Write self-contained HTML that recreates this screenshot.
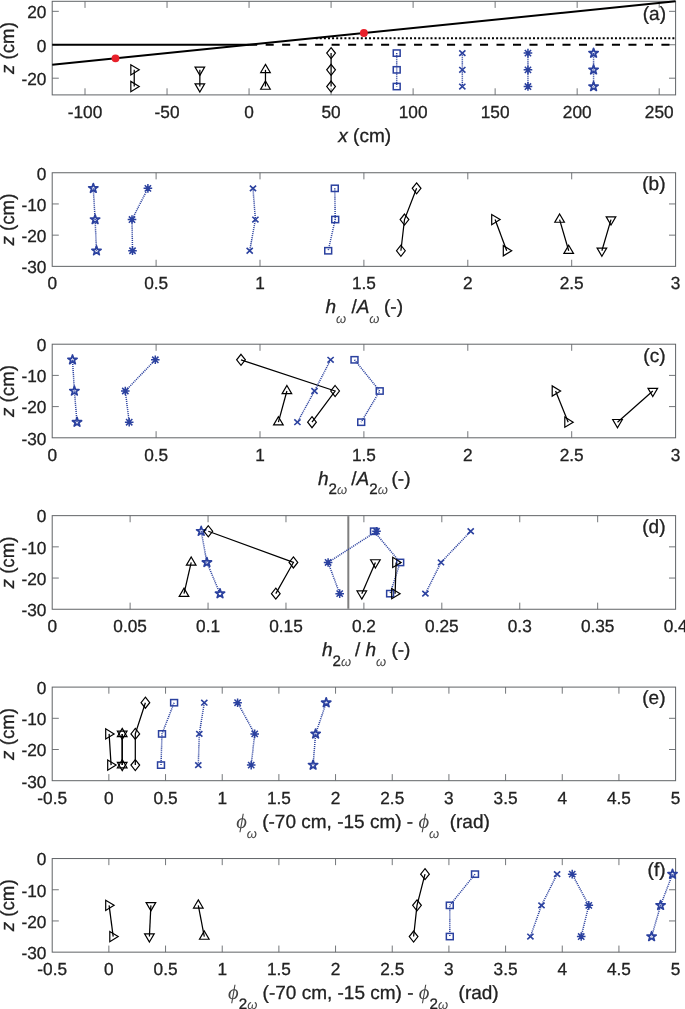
<!DOCTYPE html>
<html lang="en">
<head>
<meta charset="utf-8">
<title>Figure</title>
<style>
html,body{margin:0;padding:0;background:#fff;}
body{width:685px;height:1009px;overflow:hidden;}
svg{display:block;}
text{white-space:pre;stroke:#222;stroke-width:0.3px;}
.om{stroke:none;fill:#454545;}
</style>
</head>
<body>
<svg width="685" height="1009" viewBox="0 0 685 1009" font-family="'Liberation Sans', sans-serif" fill="#222" stroke="none" text-rendering="geometricPrecision">
<rect width="685" height="1009" fill="#fff"/>
<defs><filter id="soft" filterUnits="userSpaceOnUse" x="0" y="0" width="685" height="1009" color-interpolation-filters="sRGB"><feGaussianBlur stdDeviation="0.35"/></filter></defs>
<g filter="url(#soft)">
<path d="M85.01 94.9v-6.6 M85.01 1.3v6.6 M167.04 94.9v-6.6 M167.04 1.3v6.6 M249.06 94.9v-6.6 M249.06 1.3v6.6 M331.09 94.9v-6.6 M331.09 1.3v6.6 M413.12 94.9v-6.6 M413.12 1.3v6.6 M495.14 94.9v-6.6 M495.14 1.3v6.6 M577.17 94.9v-6.6 M577.17 1.3v6.6 M659.19 94.9v-6.6 M659.19 1.3v6.6 M52.2 11.33h6.6 M675.6 11.33h-6.6 M52.2 44.76h6.6 M675.6 44.76h-6.6 M52.2 78.19h6.6 M675.6 78.19h-6.6" fill="none" stroke="#74777a" stroke-width="1"/>
<rect x="52.2" y="1.3" width="623.4" height="93.6" fill="none" stroke="#606366" stroke-width="1"/>
<text transform="translate(85.01 117.9) scale(0.985 1)" font-size="17.5" text-anchor="middle">-100</text>
<text transform="translate(167.04 117.9) scale(0.985 1)" font-size="17.5" text-anchor="middle">-50</text>
<text transform="translate(249.06 117.9) scale(0.985 1)" font-size="17.5" text-anchor="middle">0</text>
<text transform="translate(331.09 117.9) scale(0.985 1)" font-size="17.5" text-anchor="middle">50</text>
<text transform="translate(413.12 117.9) scale(0.985 1)" font-size="17.5" text-anchor="middle">100</text>
<text transform="translate(495.14 117.9) scale(0.985 1)" font-size="17.5" text-anchor="middle">150</text>
<text transform="translate(577.17 117.9) scale(0.985 1)" font-size="17.5" text-anchor="middle">200</text>
<text transform="translate(659.19 117.9) scale(0.985 1)" font-size="17.5" text-anchor="middle">250</text>
<text transform="translate(46.4 18.13) scale(0.985 1)" font-size="17.5" text-anchor="end">20</text>
<text transform="translate(46.4 51.56) scale(0.985 1)" font-size="17.5" text-anchor="end">0</text>
<text transform="translate(46.4 84.99) scale(0.985 1)" font-size="17.5" text-anchor="end">-20</text>
<text transform="translate(13.5 48.1) rotate(-90) scale(0.985 1)" font-size="19" text-anchor="middle"><tspan font-style="italic">z</tspan> (cm)</text>
<path d="M315.68 38.37H675.6" stroke="#000" stroke-width="2.0" stroke-dasharray="2 2.1" fill="none"/>
<path d="M52.2 44.76H249.06" stroke="#000" stroke-width="2.0" fill="none"/>
<path d="M249.16 44.76H675.6" stroke="#000" stroke-width="2.1" stroke-dasharray="8.05 8.44" fill="none"/>
<path d="M52.2 64.81L675.6 1.3" stroke="#000" stroke-width="2.05" fill="none"/>
<circle cx="115.52" cy="58.36" r="3.95" fill="#e8202a"/>
<circle cx="363.9" cy="33.06" r="3.95" fill="#e8202a"/>
<path d="M134.23 69.83 L134.23 86.54" fill="none" stroke="#000" stroke-width="1.25"/>
<path d="M139.23 69.83L130.83 64.73L130.83 74.93Z" fill="none" stroke="#000" stroke-width="1.2"/>
<path d="M139.23 86.54L130.83 81.44L130.83 91.64Z" fill="none" stroke="#000" stroke-width="1.2"/>
<path d="M199.85 69.83 L199.85 86.54" fill="none" stroke="#000" stroke-width="1.25"/>
<path d="M199.85 75.33L204.65 67.13L195.05 67.13Z" fill="none" stroke="#000" stroke-width="1.2"/>
<path d="M199.85 92.04L204.65 83.84L195.05 83.84Z" fill="none" stroke="#000" stroke-width="1.2"/>
<path d="M265.47 69.83 L265.47 86.54" fill="none" stroke="#000" stroke-width="1.25"/>
<path d="M265.47 64.33L270.27 72.53L260.67 72.53Z" fill="none" stroke="#000" stroke-width="1.2"/>
<path d="M265.47 81.04L270.27 89.24L260.67 89.24Z" fill="none" stroke="#000" stroke-width="1.2"/>
<path d="M331.09 53.11 L331.09 69.83 L331.09 86.54" fill="none" stroke="#000" stroke-width="1.25"/>
<path d="M331.09 47.61L335.44 53.11L331.09 58.61L326.74 53.11Z" fill="none" stroke="#000" stroke-width="1.2"/>
<path d="M331.09 64.33L335.44 69.83L331.09 75.33L326.74 69.83Z" fill="none" stroke="#000" stroke-width="1.2"/>
<path d="M331.09 81.04L335.44 86.54L331.09 92.04L326.74 86.54Z" fill="none" stroke="#000" stroke-width="1.2"/>
<path d="M396.71 53.11 L396.71 69.83 L396.71 86.54" fill="none" stroke="#2b419f" stroke-width="1.5" stroke-dasharray="1.1 0.95"/>
<rect x="393.26" y="49.96" width="6.9" height="6.3" fill="none" stroke="#2b419f" stroke-width="1.5"/>
<rect x="393.26" y="66.68" width="6.9" height="6.3" fill="none" stroke="#2b419f" stroke-width="1.5"/>
<rect x="393.26" y="83.39" width="6.9" height="6.3" fill="none" stroke="#2b419f" stroke-width="1.5"/>
<path d="M462.33 53.11 L462.33 69.83 L462.33 86.54" fill="none" stroke="#2b419f" stroke-width="1.5" stroke-dasharray="1.1 0.95"/>
<path d="M459.23 50.31L465.43 55.91 M459.23 55.91L465.43 50.31" fill="none" stroke="#2b419f" stroke-width="1.6"/>
<path d="M459.23 67.03L465.43 72.63 M459.23 72.63L465.43 67.03" fill="none" stroke="#2b419f" stroke-width="1.6"/>
<path d="M459.23 83.74L465.43 89.34 M459.23 89.34L465.43 83.74" fill="none" stroke="#2b419f" stroke-width="1.6"/>
<path d="M527.95 53.11 L527.95 69.83 L527.95 86.54" fill="none" stroke="#2b419f" stroke-width="1.5" stroke-dasharray="1.1 0.95"/>
<path d="M523.65 53.11H532.25 M527.95 48.81V57.41 M524.8 49.96L531.1 56.26 M524.8 56.26L531.1 49.96" fill="none" stroke="#2b419f" stroke-width="1.5"/>
<path d="M523.65 69.83H532.25 M527.95 65.53V74.13 M524.8 66.68L531.1 72.98 M524.8 72.98L531.1 66.68" fill="none" stroke="#2b419f" stroke-width="1.5"/>
<path d="M523.65 86.54H532.25 M527.95 82.24V90.84 M524.8 83.39L531.1 89.69 M524.8 89.69L531.1 83.39" fill="none" stroke="#2b419f" stroke-width="1.5"/>
<path d="M593.57 53.11 L593.57 69.83 L593.57 86.54" fill="none" stroke="#2b419f" stroke-width="1.5" stroke-dasharray="1.1 0.95"/>
<path d="M593.57 48.26 L594.66 51.62 L598.19 51.62 L595.34 53.69 L596.42 57.04 L593.57 54.97 L590.72 57.04 L591.81 53.69 L588.96 51.62 L592.48 51.62Z" fill="none" stroke="#2b419f" stroke-width="1.7" stroke-linejoin="round"/>
<path d="M593.57 64.98 L594.66 68.33 L598.19 68.33 L595.34 70.4 L596.42 73.75 L593.57 71.68 L590.72 73.75 L591.81 70.4 L588.96 68.33 L592.48 68.33Z" fill="none" stroke="#2b419f" stroke-width="1.7" stroke-linejoin="round"/>
<path d="M593.57 81.69 L594.66 85.04 L598.19 85.04 L595.34 87.12 L596.42 90.47 L593.57 88.4 L590.72 90.47 L591.81 87.12 L588.96 85.04 L592.48 85.04Z" fill="none" stroke="#2b419f" stroke-width="1.7" stroke-linejoin="round"/>
<text transform="translate(364.7 141.7) scale(1.0 1)" font-size="19" text-anchor="middle"><tspan font-style="italic">x</tspan> (cm)</text>
<text transform="translate(666 19.6) scale(1.0 1)" font-size="19" text-anchor="end">(a)</text>
<path d="M156.1 266.35v-6.6 M156.1 172.75v6.6 M260 266.35v-6.6 M260 172.75v6.6 M363.9 266.35v-6.6 M363.9 172.75v6.6 M467.8 266.35v-6.6 M467.8 172.75v6.6 M571.7 266.35v-6.6 M571.7 172.75v6.6 M52.2 203.95h6.6 M675.6 203.95h-6.6 M52.2 235.15h6.6 M675.6 235.15h-6.6" fill="none" stroke="#74777a" stroke-width="1"/>
<rect x="52.2" y="172.75" width="623.4" height="93.6" fill="none" stroke="#606366" stroke-width="1"/>
<text transform="translate(52.2 289.35) scale(0.985 1)" font-size="17.5" text-anchor="middle">0</text>
<text transform="translate(156.1 289.35) scale(0.985 1)" font-size="17.5" text-anchor="middle">0.5</text>
<text transform="translate(260 289.35) scale(0.985 1)" font-size="17.5" text-anchor="middle">1</text>
<text transform="translate(363.9 289.35) scale(0.985 1)" font-size="17.5" text-anchor="middle">1.5</text>
<text transform="translate(467.8 289.35) scale(0.985 1)" font-size="17.5" text-anchor="middle">2</text>
<text transform="translate(571.7 289.35) scale(0.985 1)" font-size="17.5" text-anchor="middle">2.5</text>
<text transform="translate(675.6 289.35) scale(0.985 1)" font-size="17.5" text-anchor="middle">3</text>
<text transform="translate(46.4 179.55) scale(0.985 1)" font-size="17.5" text-anchor="end">0</text>
<text transform="translate(46.4 210.75) scale(0.985 1)" font-size="17.5" text-anchor="end">-10</text>
<text transform="translate(46.4 241.95) scale(0.985 1)" font-size="17.5" text-anchor="end">-20</text>
<text transform="translate(46.4 273.15) scale(0.985 1)" font-size="17.5" text-anchor="end">-30</text>
<text transform="translate(13.5 219.55) rotate(-90) scale(0.985 1)" font-size="19" text-anchor="middle"><tspan font-style="italic">z</tspan> (cm)</text>
<path d="M93.3 188.35 L95.1 219.55 L96.5 250.75" fill="none" stroke="#2b419f" stroke-width="1.5" stroke-dasharray="1.1 0.95"/>
<path d="M93.3 183.5 L94.39 186.85 L97.91 186.85 L95.06 188.92 L96.15 192.27 L93.3 190.2 L90.45 192.27 L91.54 188.92 L88.69 186.85 L92.21 186.85Z" fill="none" stroke="#2b419f" stroke-width="1.7" stroke-linejoin="round"/>
<path d="M95.1 214.7 L96.19 218.05 L99.71 218.05 L96.86 220.12 L97.95 223.47 L95.1 221.4 L92.25 223.47 L93.34 220.12 L90.49 218.05 L94.01 218.05Z" fill="none" stroke="#2b419f" stroke-width="1.7" stroke-linejoin="round"/>
<path d="M96.5 245.9 L97.59 249.25 L101.11 249.25 L98.26 251.32 L99.35 254.67 L96.5 252.6 L93.65 254.67 L94.74 251.32 L91.89 249.25 L95.41 249.25Z" fill="none" stroke="#2b419f" stroke-width="1.7" stroke-linejoin="round"/>
<path d="M147.9 188.35 L132 219.55 L132.5 250.75" fill="none" stroke="#2b419f" stroke-width="1.5" stroke-dasharray="1.1 0.95"/>
<path d="M143.6 188.35H152.2 M147.9 184.05V192.65 M144.75 185.2L151.05 191.5 M144.75 191.5L151.05 185.2" fill="none" stroke="#2b419f" stroke-width="1.5"/>
<path d="M127.7 219.55H136.3 M132 215.25V223.85 M128.85 216.4L135.15 222.7 M128.85 222.7L135.15 216.4" fill="none" stroke="#2b419f" stroke-width="1.5"/>
<path d="M128.2 250.75H136.8 M132.5 246.45V255.05 M129.35 247.6L135.65 253.9 M129.35 253.9L135.65 247.6" fill="none" stroke="#2b419f" stroke-width="1.5"/>
<path d="M253 188.35 L255.4 219.55 L249.7 250.75" fill="none" stroke="#2b419f" stroke-width="1.5" stroke-dasharray="1.1 0.95"/>
<path d="M249.9 185.55L256.1 191.15 M249.9 191.15L256.1 185.55" fill="none" stroke="#2b419f" stroke-width="1.6"/>
<path d="M252.3 216.75L258.5 222.35 M252.3 222.35L258.5 216.75" fill="none" stroke="#2b419f" stroke-width="1.6"/>
<path d="M246.6 247.95L252.8 253.55 M246.6 253.55L252.8 247.95" fill="none" stroke="#2b419f" stroke-width="1.6"/>
<path d="M334.8 188.35 L335.2 219.55 L328.2 250.75" fill="none" stroke="#2b419f" stroke-width="1.5" stroke-dasharray="1.1 0.95"/>
<rect x="331.35" y="185.2" width="6.9" height="6.3" fill="none" stroke="#2b419f" stroke-width="1.5"/>
<rect x="331.75" y="216.4" width="6.9" height="6.3" fill="none" stroke="#2b419f" stroke-width="1.5"/>
<rect x="324.75" y="247.6" width="6.9" height="6.3" fill="none" stroke="#2b419f" stroke-width="1.5"/>
<path d="M416.6 188.35 L404.5 219.55 L400.9 250.75" fill="none" stroke="#000" stroke-width="1.25"/>
<path d="M416.6 182.85L420.95 188.35L416.6 193.85L412.25 188.35Z" fill="none" stroke="#000" stroke-width="1.2"/>
<path d="M404.5 214.05L408.85 219.55L404.5 225.05L400.15 219.55Z" fill="none" stroke="#000" stroke-width="1.2"/>
<path d="M400.9 245.25L405.25 250.75L400.9 256.25L396.55 250.75Z" fill="none" stroke="#000" stroke-width="1.2"/>
<path d="M495.1 219.55 L506.7 250.75" fill="none" stroke="#000" stroke-width="1.25"/>
<path d="M500.1 219.55L491.7 214.45L491.7 224.65Z" fill="none" stroke="#000" stroke-width="1.2"/>
<path d="M511.7 250.75L503.3 245.65L503.3 255.85Z" fill="none" stroke="#000" stroke-width="1.2"/>
<path d="M559.6 219.55 L568.7 250.75" fill="none" stroke="#000" stroke-width="1.25"/>
<path d="M559.6 214.05L564.4 222.25L554.8 222.25Z" fill="none" stroke="#000" stroke-width="1.2"/>
<path d="M568.7 245.25L573.5 253.45L563.9 253.45Z" fill="none" stroke="#000" stroke-width="1.2"/>
<path d="M611 219.55 L601.9 250.75" fill="none" stroke="#000" stroke-width="1.25"/>
<path d="M611 225.05L615.8 216.85L606.2 216.85Z" fill="none" stroke="#000" stroke-width="1.2"/>
<path d="M601.9 256.25L606.7 248.05L597.1 248.05Z" fill="none" stroke="#000" stroke-width="1.2"/>
<text transform="translate(364.2 313.15) scale(1.0 1)" font-size="19" text-anchor="middle"><tspan font-style="italic">h</tspan><tspan font-size="13.0" dy="10.1" font-style="italic" class="om">ω</tspan><tspan dy="-10.1"> /</tspan><tspan font-style="italic">A</tspan><tspan font-size="13.0" dy="10.1" font-style="italic" class="om">ω</tspan><tspan dy="-10.1" dx="-0.8"> (-)</tspan></text>
<text transform="translate(665.5 190.05) scale(1.0 1)" font-size="19" text-anchor="end">(b)</text>
<path d="M156.1 437.8v-6.6 M156.1 344.2v6.6 M260 437.8v-6.6 M260 344.2v6.6 M363.9 437.8v-6.6 M363.9 344.2v6.6 M467.8 437.8v-6.6 M467.8 344.2v6.6 M571.7 437.8v-6.6 M571.7 344.2v6.6 M52.2 375.4h6.6 M675.6 375.4h-6.6 M52.2 406.6h6.6 M675.6 406.6h-6.6" fill="none" stroke="#74777a" stroke-width="1"/>
<rect x="52.2" y="344.2" width="623.4" height="93.6" fill="none" stroke="#606366" stroke-width="1"/>
<text transform="translate(52.2 460.8) scale(0.985 1)" font-size="17.5" text-anchor="middle">0</text>
<text transform="translate(156.1 460.8) scale(0.985 1)" font-size="17.5" text-anchor="middle">0.5</text>
<text transform="translate(260 460.8) scale(0.985 1)" font-size="17.5" text-anchor="middle">1</text>
<text transform="translate(363.9 460.8) scale(0.985 1)" font-size="17.5" text-anchor="middle">1.5</text>
<text transform="translate(467.8 460.8) scale(0.985 1)" font-size="17.5" text-anchor="middle">2</text>
<text transform="translate(571.7 460.8) scale(0.985 1)" font-size="17.5" text-anchor="middle">2.5</text>
<text transform="translate(675.6 460.8) scale(0.985 1)" font-size="17.5" text-anchor="middle">3</text>
<text transform="translate(46.4 351) scale(0.985 1)" font-size="17.5" text-anchor="end">0</text>
<text transform="translate(46.4 382.2) scale(0.985 1)" font-size="17.5" text-anchor="end">-10</text>
<text transform="translate(46.4 413.4) scale(0.985 1)" font-size="17.5" text-anchor="end">-20</text>
<text transform="translate(46.4 444.6) scale(0.985 1)" font-size="17.5" text-anchor="end">-30</text>
<text transform="translate(13.5 391) rotate(-90) scale(0.985 1)" font-size="19" text-anchor="middle"><tspan font-style="italic">z</tspan> (cm)</text>
<path d="M72.5 359.8 L74.4 391 L77 422.2" fill="none" stroke="#2b419f" stroke-width="1.5" stroke-dasharray="1.1 0.95"/>
<path d="M72.5 354.95 L73.59 358.3 L77.11 358.3 L74.26 360.37 L75.35 363.72 L72.5 361.65 L69.65 363.72 L70.74 360.37 L67.89 358.3 L71.41 358.3Z" fill="none" stroke="#2b419f" stroke-width="1.7" stroke-linejoin="round"/>
<path d="M74.4 386.15 L75.49 389.5 L79.01 389.5 L76.16 391.57 L77.25 394.92 L74.4 392.85 L71.55 394.92 L72.64 391.57 L69.79 389.5 L73.31 389.5Z" fill="none" stroke="#2b419f" stroke-width="1.7" stroke-linejoin="round"/>
<path d="M77 417.35 L78.09 420.7 L81.61 420.7 L78.76 422.77 L79.85 426.12 L77 424.05 L74.15 426.12 L75.24 422.77 L72.39 420.7 L75.91 420.7Z" fill="none" stroke="#2b419f" stroke-width="1.7" stroke-linejoin="round"/>
<path d="M155.3 359.8 L125.3 391 L129.2 422.2" fill="none" stroke="#2b419f" stroke-width="1.5" stroke-dasharray="1.1 0.95"/>
<path d="M151 359.8H159.6 M155.3 355.5V364.1 M152.15 356.65L158.45 362.95 M152.15 362.95L158.45 356.65" fill="none" stroke="#2b419f" stroke-width="1.5"/>
<path d="M121 391H129.6 M125.3 386.7V395.3 M122.15 387.85L128.45 394.15 M122.15 394.15L128.45 387.85" fill="none" stroke="#2b419f" stroke-width="1.5"/>
<path d="M124.9 422.2H133.5 M129.2 417.9V426.5 M126.05 419.05L132.35 425.35 M126.05 425.35L132.35 419.05" fill="none" stroke="#2b419f" stroke-width="1.5"/>
<path d="M241 359.8 L335.1 391 L312 422.2" fill="none" stroke="#000" stroke-width="1.25"/>
<path d="M241 354.3L245.35 359.8L241 365.3L236.65 359.8Z" fill="none" stroke="#000" stroke-width="1.2"/>
<path d="M335.1 385.5L339.45 391L335.1 396.5L330.75 391Z" fill="none" stroke="#000" stroke-width="1.2"/>
<path d="M312 416.7L316.35 422.2L312 427.7L307.65 422.2Z" fill="none" stroke="#000" stroke-width="1.2"/>
<path d="M286.9 391 L278.4 422.2" fill="none" stroke="#000" stroke-width="1.25"/>
<path d="M286.9 385.5L291.7 393.7L282.1 393.7Z" fill="none" stroke="#000" stroke-width="1.2"/>
<path d="M278.4 416.7L283.2 424.9L273.6 424.9Z" fill="none" stroke="#000" stroke-width="1.2"/>
<path d="M330.6 359.8 L314.5 391 L297.4 422.2" fill="none" stroke="#2b419f" stroke-width="1.5" stroke-dasharray="1.1 0.95"/>
<path d="M327.5 357L333.7 362.6 M327.5 362.6L333.7 357" fill="none" stroke="#2b419f" stroke-width="1.6"/>
<path d="M311.4 388.2L317.6 393.8 M311.4 393.8L317.6 388.2" fill="none" stroke="#2b419f" stroke-width="1.6"/>
<path d="M294.3 419.4L300.5 425 M294.3 425L300.5 419.4" fill="none" stroke="#2b419f" stroke-width="1.6"/>
<path d="M354.5 359.8 L379.7 391 L361.2 422.2" fill="none" stroke="#2b419f" stroke-width="1.5" stroke-dasharray="1.1 0.95"/>
<rect x="351.05" y="356.65" width="6.9" height="6.3" fill="none" stroke="#2b419f" stroke-width="1.5"/>
<rect x="376.25" y="387.85" width="6.9" height="6.3" fill="none" stroke="#2b419f" stroke-width="1.5"/>
<rect x="357.75" y="419.05" width="6.9" height="6.3" fill="none" stroke="#2b419f" stroke-width="1.5"/>
<path d="M555.6 391 L568.2 422.2" fill="none" stroke="#000" stroke-width="1.25"/>
<path d="M560.6 391L552.2 385.9L552.2 396.1Z" fill="none" stroke="#000" stroke-width="1.2"/>
<path d="M573.2 422.2L564.8 417.1L564.8 427.3Z" fill="none" stroke="#000" stroke-width="1.2"/>
<path d="M652.8 391 L617.5 422.2" fill="none" stroke="#000" stroke-width="1.25"/>
<path d="M652.8 396.5L657.6 388.3L648 388.3Z" fill="none" stroke="#000" stroke-width="1.2"/>
<path d="M617.5 427.7L622.3 419.5L612.7 419.5Z" fill="none" stroke="#000" stroke-width="1.2"/>
<text transform="translate(364.2 484.6) scale(1.0 1)" font-size="19" text-anchor="middle"><tspan font-style="italic">h</tspan><tspan font-size="15.2" dy="9.6">2</tspan><tspan font-size="13.0" dy="0" font-style="italic" class="om">ω</tspan><tspan dy="-9.6" dx="-1.0"> /</tspan><tspan font-style="italic">A</tspan><tspan font-size="15.2" dy="9.6">2</tspan><tspan font-size="13.0" dy="0" font-style="italic" class="om">ω</tspan><tspan dy="-9.6" dx="-1.6"> (-)</tspan></text>
<text transform="translate(665.5 361.5) scale(1.0 1)" font-size="19" text-anchor="end">(c)</text>
<path d="M348.31 516.15V608.75" stroke="#7f7f7f" stroke-width="2" fill="none"/>
<path d="M130.12 609.25v-6.6 M130.12 515.65v6.6 M208.05 609.25v-6.6 M208.05 515.65v6.6 M285.97 609.25v-6.6 M285.97 515.65v6.6 M363.9 609.25v-6.6 M363.9 515.65v6.6 M441.82 609.25v-6.6 M441.82 515.65v6.6 M519.75 609.25v-6.6 M519.75 515.65v6.6 M597.67 609.25v-6.6 M597.67 515.65v6.6 M52.2 546.85h6.6 M675.6 546.85h-6.6 M52.2 578.05h6.6 M675.6 578.05h-6.6" fill="none" stroke="#74777a" stroke-width="1"/>
<rect x="52.2" y="515.65" width="623.4" height="93.6" fill="none" stroke="#606366" stroke-width="1"/>
<text transform="translate(52.2 632.25) scale(0.985 1)" font-size="17.5" text-anchor="middle">0</text>
<text transform="translate(130.12 632.25) scale(0.985 1)" font-size="17.5" text-anchor="middle">0.05</text>
<text transform="translate(208.05 632.25) scale(0.985 1)" font-size="17.5" text-anchor="middle">0.1</text>
<text transform="translate(285.97 632.25) scale(0.985 1)" font-size="17.5" text-anchor="middle">0.15</text>
<text transform="translate(363.9 632.25) scale(0.985 1)" font-size="17.5" text-anchor="middle">0.2</text>
<text transform="translate(441.82 632.25) scale(0.985 1)" font-size="17.5" text-anchor="middle">0.25</text>
<text transform="translate(519.75 632.25) scale(0.985 1)" font-size="17.5" text-anchor="middle">0.3</text>
<text transform="translate(597.67 632.25) scale(0.985 1)" font-size="17.5" text-anchor="middle">0.35</text>
<text transform="translate(675.6 632.25) scale(0.985 1)" font-size="17.5" text-anchor="middle">0.4</text>
<text transform="translate(46.4 522.45) scale(0.985 1)" font-size="17.5" text-anchor="end">0</text>
<text transform="translate(46.4 553.65) scale(0.985 1)" font-size="17.5" text-anchor="end">-10</text>
<text transform="translate(46.4 584.85) scale(0.985 1)" font-size="17.5" text-anchor="end">-20</text>
<text transform="translate(46.4 616.05) scale(0.985 1)" font-size="17.5" text-anchor="end">-30</text>
<text transform="translate(13.5 562.45) rotate(-90) scale(0.985 1)" font-size="19" text-anchor="middle"><tspan font-style="italic">z</tspan> (cm)</text>
<path d="M201.2 531.25 L206.9 562.45 L220 593.65" fill="none" stroke="#2b419f" stroke-width="1.5" stroke-dasharray="1.1 0.95"/>
<path d="M201.2 526.4 L202.29 529.75 L205.81 529.75 L202.96 531.82 L204.05 535.17 L201.2 533.1 L198.35 535.17 L199.44 531.82 L196.59 529.75 L200.11 529.75Z" fill="none" stroke="#2b419f" stroke-width="1.7" stroke-linejoin="round"/>
<path d="M206.9 557.6 L207.99 560.95 L211.51 560.95 L208.66 563.02 L209.75 566.37 L206.9 564.3 L204.05 566.37 L205.14 563.02 L202.29 560.95 L205.81 560.95Z" fill="none" stroke="#2b419f" stroke-width="1.7" stroke-linejoin="round"/>
<path d="M220 588.8 L221.09 592.15 L224.61 592.15 L221.76 594.22 L222.85 597.57 L220 595.5 L217.15 597.57 L218.24 594.22 L215.39 592.15 L218.91 592.15Z" fill="none" stroke="#2b419f" stroke-width="1.7" stroke-linejoin="round"/>
<path d="M208.3 531.25 L293.4 562.45 L275.8 593.65" fill="none" stroke="#000" stroke-width="1.25"/>
<path d="M208.3 525.75L212.65 531.25L208.3 536.75L203.95 531.25Z" fill="none" stroke="#000" stroke-width="1.2"/>
<path d="M293.4 556.95L297.75 562.45L293.4 567.95L289.05 562.45Z" fill="none" stroke="#000" stroke-width="1.2"/>
<path d="M275.8 588.15L280.15 593.65L275.8 599.15L271.45 593.65Z" fill="none" stroke="#000" stroke-width="1.2"/>
<path d="M191.2 562.45 L184 593.65" fill="none" stroke="#000" stroke-width="1.25"/>
<path d="M191.2 556.95L196 565.15L186.4 565.15Z" fill="none" stroke="#000" stroke-width="1.2"/>
<path d="M184 588.15L188.8 596.35L179.2 596.35Z" fill="none" stroke="#000" stroke-width="1.2"/>
<path d="M376.5 531.25 L328.1 562.45 L339.7 593.65" fill="none" stroke="#2b419f" stroke-width="1.5" stroke-dasharray="1.1 0.95"/>
<path d="M372.2 531.25H380.8 M376.5 526.95V535.55 M373.35 528.1L379.65 534.4 M373.35 534.4L379.65 528.1" fill="none" stroke="#2b419f" stroke-width="1.5"/>
<path d="M323.8 562.45H332.4 M328.1 558.15V566.75 M324.95 559.3L331.25 565.6 M324.95 565.6L331.25 559.3" fill="none" stroke="#2b419f" stroke-width="1.5"/>
<path d="M335.4 593.65H344 M339.7 589.35V597.95 M336.55 590.5L342.85 596.8 M336.55 596.8L342.85 590.5" fill="none" stroke="#2b419f" stroke-width="1.5"/>
<path d="M374 531.25 L400.2 562.45 L390.1 593.65" fill="none" stroke="#2b419f" stroke-width="1.5" stroke-dasharray="1.1 0.95"/>
<rect x="370.55" y="528.1" width="6.9" height="6.3" fill="none" stroke="#2b419f" stroke-width="1.5"/>
<rect x="396.75" y="559.3" width="6.9" height="6.3" fill="none" stroke="#2b419f" stroke-width="1.5"/>
<rect x="386.65" y="590.5" width="6.9" height="6.3" fill="none" stroke="#2b419f" stroke-width="1.5"/>
<path d="M375.4 562.45 L361.8 593.65" fill="none" stroke="#000" stroke-width="1.25"/>
<path d="M375.4 567.95L380.2 559.75L370.6 559.75Z" fill="none" stroke="#000" stroke-width="1.2"/>
<path d="M361.8 599.15L366.6 590.95L357 590.95Z" fill="none" stroke="#000" stroke-width="1.2"/>
<path d="M396.1 562.45 L395.1 593.65" fill="none" stroke="#000" stroke-width="1.25"/>
<path d="M401.1 562.45L392.7 557.35L392.7 567.55Z" fill="none" stroke="#000" stroke-width="1.2"/>
<path d="M400.1 593.65L391.7 588.55L391.7 598.75Z" fill="none" stroke="#000" stroke-width="1.2"/>
<path d="M470.7 531.25 L441 562.45 L425.4 593.65" fill="none" stroke="#2b419f" stroke-width="1.5" stroke-dasharray="1.1 0.95"/>
<path d="M467.6 528.45L473.8 534.05 M467.6 534.05L473.8 528.45" fill="none" stroke="#2b419f" stroke-width="1.6"/>
<path d="M437.9 559.65L444.1 565.25 M437.9 565.25L444.1 559.65" fill="none" stroke="#2b419f" stroke-width="1.6"/>
<path d="M422.3 590.85L428.5 596.45 M422.3 596.45L428.5 590.85" fill="none" stroke="#2b419f" stroke-width="1.6"/>
<text transform="translate(366.2 656.05) scale(1.0 1)" font-size="19" text-anchor="middle"><tspan font-style="italic">h</tspan><tspan font-size="15.2" dy="9.6">2</tspan><tspan font-size="13.0" dy="0" font-style="italic" class="om">ω</tspan><tspan dy="-9.6" dx="-1.5"> / </tspan><tspan font-style="italic">h</tspan><tspan font-size="13.0" dy="10.1" font-style="italic" class="om">ω</tspan><tspan dy="-10.1"> (-)</tspan></text>
<text transform="translate(665.5 532.95) scale(1.0 1)" font-size="19" text-anchor="end">(d)</text>
<path d="M108.87 780.7v-6.6 M108.87 687.1v6.6 M165.55 780.7v-6.6 M165.55 687.1v6.6 M222.22 780.7v-6.6 M222.22 687.1v6.6 M278.89 780.7v-6.6 M278.89 687.1v6.6 M335.56 780.7v-6.6 M335.56 687.1v6.6 M392.24 780.7v-6.6 M392.24 687.1v6.6 M448.91 780.7v-6.6 M448.91 687.1v6.6 M505.58 780.7v-6.6 M505.58 687.1v6.6 M562.25 780.7v-6.6 M562.25 687.1v6.6 M618.93 780.7v-6.6 M618.93 687.1v6.6 M52.2 718.3h6.6 M675.6 718.3h-6.6 M52.2 749.5h6.6 M675.6 749.5h-6.6" fill="none" stroke="#74777a" stroke-width="1"/>
<rect x="52.2" y="687.1" width="623.4" height="93.6" fill="none" stroke="#606366" stroke-width="1"/>
<text transform="translate(52.2 803.7) scale(0.985 1)" font-size="17.5" text-anchor="middle">-0.5</text>
<text transform="translate(108.87 803.7) scale(0.985 1)" font-size="17.5" text-anchor="middle">0</text>
<text transform="translate(165.55 803.7) scale(0.985 1)" font-size="17.5" text-anchor="middle">0.5</text>
<text transform="translate(222.22 803.7) scale(0.985 1)" font-size="17.5" text-anchor="middle">1</text>
<text transform="translate(278.89 803.7) scale(0.985 1)" font-size="17.5" text-anchor="middle">1.5</text>
<text transform="translate(335.56 803.7) scale(0.985 1)" font-size="17.5" text-anchor="middle">2</text>
<text transform="translate(392.24 803.7) scale(0.985 1)" font-size="17.5" text-anchor="middle">2.5</text>
<text transform="translate(448.91 803.7) scale(0.985 1)" font-size="17.5" text-anchor="middle">3</text>
<text transform="translate(505.58 803.7) scale(0.985 1)" font-size="17.5" text-anchor="middle">3.5</text>
<text transform="translate(562.25 803.7) scale(0.985 1)" font-size="17.5" text-anchor="middle">4</text>
<text transform="translate(618.93 803.7) scale(0.985 1)" font-size="17.5" text-anchor="middle">4.5</text>
<text transform="translate(675.6 803.7) scale(0.985 1)" font-size="17.5" text-anchor="middle">5</text>
<text transform="translate(46.4 693.9) scale(0.985 1)" font-size="17.5" text-anchor="end">0</text>
<text transform="translate(46.4 725.1) scale(0.985 1)" font-size="17.5" text-anchor="end">-10</text>
<text transform="translate(46.4 756.3) scale(0.985 1)" font-size="17.5" text-anchor="end">-20</text>
<text transform="translate(46.4 787.5) scale(0.985 1)" font-size="17.5" text-anchor="end">-30</text>
<text transform="translate(13.5 733.9) rotate(-90) scale(0.985 1)" font-size="19" text-anchor="middle"><tspan font-style="italic">z</tspan> (cm)</text>
<path d="M109.1 733.9 L111.1 765.1" fill="none" stroke="#000" stroke-width="1.25"/>
<path d="M114.1 733.9L105.7 728.8L105.7 739Z" fill="none" stroke="#000" stroke-width="1.2"/>
<path d="M116.1 765.1L107.7 760L107.7 770.2Z" fill="none" stroke="#000" stroke-width="1.2"/>
<path d="M122.2 733.9 L122.2 765.1" fill="none" stroke="#000" stroke-width="1.25"/>
<path d="M122.2 728.4L127 736.6L117.4 736.6Z" fill="none" stroke="#000" stroke-width="1.2"/>
<path d="M122.2 759.6L127 767.8L117.4 767.8Z" fill="none" stroke="#000" stroke-width="1.2"/>
<path d="M122.2 733.9 L122.2 765.1" fill="none" stroke="#000" stroke-width="1.25"/>
<path d="M122.2 739.4L127 731.2L117.4 731.2Z" fill="none" stroke="#000" stroke-width="1.2"/>
<path d="M122.2 770.6L127 762.4L117.4 762.4Z" fill="none" stroke="#000" stroke-width="1.2"/>
<path d="M145.4 702.7 L135.3 733.9 L135.3 765.1" fill="none" stroke="#000" stroke-width="1.25"/>
<path d="M145.4 697.2L149.75 702.7L145.4 708.2L141.05 702.7Z" fill="none" stroke="#000" stroke-width="1.2"/>
<path d="M135.3 728.4L139.65 733.9L135.3 739.4L130.95 733.9Z" fill="none" stroke="#000" stroke-width="1.2"/>
<path d="M135.3 759.6L139.65 765.1L135.3 770.6L130.95 765.1Z" fill="none" stroke="#000" stroke-width="1.2"/>
<path d="M174.1 702.7 L162 733.9 L161 765.1" fill="none" stroke="#2b419f" stroke-width="1.5" stroke-dasharray="1.1 0.95"/>
<rect x="170.65" y="699.55" width="6.9" height="6.3" fill="none" stroke="#2b419f" stroke-width="1.5"/>
<rect x="158.55" y="730.75" width="6.9" height="6.3" fill="none" stroke="#2b419f" stroke-width="1.5"/>
<rect x="157.55" y="761.95" width="6.9" height="6.3" fill="none" stroke="#2b419f" stroke-width="1.5"/>
<path d="M204.3 702.7 L199.3 733.9 L198.3 765.1" fill="none" stroke="#2b419f" stroke-width="1.5" stroke-dasharray="1.1 0.95"/>
<path d="M201.2 699.9L207.4 705.5 M201.2 705.5L207.4 699.9" fill="none" stroke="#2b419f" stroke-width="1.6"/>
<path d="M196.2 731.1L202.4 736.7 M196.2 736.7L202.4 731.1" fill="none" stroke="#2b419f" stroke-width="1.6"/>
<path d="M195.2 762.3L201.4 767.9 M195.2 767.9L201.4 762.3" fill="none" stroke="#2b419f" stroke-width="1.6"/>
<path d="M237.6 702.7 L254.7 733.9 L251.2 765.1" fill="none" stroke="#2b419f" stroke-width="1.5" stroke-dasharray="1.1 0.95"/>
<path d="M233.3 702.7H241.9 M237.6 698.4V707 M234.45 699.55L240.75 705.85 M234.45 705.85L240.75 699.55" fill="none" stroke="#2b419f" stroke-width="1.5"/>
<path d="M250.4 733.9H259 M254.7 729.6V738.2 M251.55 730.75L257.85 737.05 M251.55 737.05L257.85 730.75" fill="none" stroke="#2b419f" stroke-width="1.5"/>
<path d="M246.9 765.1H255.5 M251.2 760.8V769.4 M248.05 761.95L254.35 768.25 M248.05 768.25L254.35 761.95" fill="none" stroke="#2b419f" stroke-width="1.5"/>
<path d="M326.2 702.7 L315.6 733.9 L313.1 765.1" fill="none" stroke="#2b419f" stroke-width="1.5" stroke-dasharray="1.1 0.95"/>
<path d="M326.2 697.85 L327.29 701.2 L330.81 701.2 L327.96 703.27 L329.05 706.62 L326.2 704.55 L323.35 706.62 L324.44 703.27 L321.59 701.2 L325.11 701.2Z" fill="none" stroke="#2b419f" stroke-width="1.7" stroke-linejoin="round"/>
<path d="M315.6 729.05 L316.69 732.4 L320.21 732.4 L317.36 734.47 L318.45 737.82 L315.6 735.75 L312.75 737.82 L313.84 734.47 L310.99 732.4 L314.51 732.4Z" fill="none" stroke="#2b419f" stroke-width="1.7" stroke-linejoin="round"/>
<path d="M313.1 760.25 L314.19 763.6 L317.71 763.6 L314.86 765.67 L315.95 769.02 L313.1 766.95 L310.25 769.02 L311.34 765.67 L308.49 763.6 L312.01 763.6Z" fill="none" stroke="#2b419f" stroke-width="1.7" stroke-linejoin="round"/>
<text transform="translate(363 827.5) scale(1.0 1)" font-size="19" text-anchor="middle"><tspan class="om" font-style="italic" font-family="'Liberation Serif', serif" font-size="20.5">ϕ</tspan><tspan font-size="13.0" dy="10.1" font-style="italic" class="om">ω</tspan><tspan dy="-10.1"> (-70 cm, -15 cm) - </tspan><tspan class="om" font-style="italic" font-family="'Liberation Serif', serif" font-size="20.5">ϕ</tspan><tspan font-size="13.0" dy="10.1" font-style="italic" class="om">ω</tspan><tspan dy="-10.1">  (rad)</tspan></text>
<text transform="translate(665.5 704.4) scale(1.0 1)" font-size="19" text-anchor="end">(e)</text>
<path d="M108.87 952.15v-6.6 M108.87 858.55v6.6 M165.55 952.15v-6.6 M165.55 858.55v6.6 M222.22 952.15v-6.6 M222.22 858.55v6.6 M278.89 952.15v-6.6 M278.89 858.55v6.6 M335.56 952.15v-6.6 M335.56 858.55v6.6 M392.24 952.15v-6.6 M392.24 858.55v6.6 M448.91 952.15v-6.6 M448.91 858.55v6.6 M505.58 952.15v-6.6 M505.58 858.55v6.6 M562.25 952.15v-6.6 M562.25 858.55v6.6 M618.93 952.15v-6.6 M618.93 858.55v6.6 M52.2 889.75h6.6 M675.6 889.75h-6.6 M52.2 920.95h6.6 M675.6 920.95h-6.6" fill="none" stroke="#74777a" stroke-width="1"/>
<rect x="52.2" y="858.55" width="623.4" height="93.6" fill="none" stroke="#606366" stroke-width="1"/>
<text transform="translate(52.2 975.15) scale(0.985 1)" font-size="17.5" text-anchor="middle">-0.5</text>
<text transform="translate(108.87 975.15) scale(0.985 1)" font-size="17.5" text-anchor="middle">0</text>
<text transform="translate(165.55 975.15) scale(0.985 1)" font-size="17.5" text-anchor="middle">0.5</text>
<text transform="translate(222.22 975.15) scale(0.985 1)" font-size="17.5" text-anchor="middle">1</text>
<text transform="translate(278.89 975.15) scale(0.985 1)" font-size="17.5" text-anchor="middle">1.5</text>
<text transform="translate(335.56 975.15) scale(0.985 1)" font-size="17.5" text-anchor="middle">2</text>
<text transform="translate(392.24 975.15) scale(0.985 1)" font-size="17.5" text-anchor="middle">2.5</text>
<text transform="translate(448.91 975.15) scale(0.985 1)" font-size="17.5" text-anchor="middle">3</text>
<text transform="translate(505.58 975.15) scale(0.985 1)" font-size="17.5" text-anchor="middle">3.5</text>
<text transform="translate(562.25 975.15) scale(0.985 1)" font-size="17.5" text-anchor="middle">4</text>
<text transform="translate(618.93 975.15) scale(0.985 1)" font-size="17.5" text-anchor="middle">4.5</text>
<text transform="translate(675.6 975.15) scale(0.985 1)" font-size="17.5" text-anchor="middle">5</text>
<text transform="translate(46.4 865.35) scale(0.985 1)" font-size="17.5" text-anchor="end">0</text>
<text transform="translate(46.4 896.55) scale(0.985 1)" font-size="17.5" text-anchor="end">-10</text>
<text transform="translate(46.4 927.75) scale(0.985 1)" font-size="17.5" text-anchor="end">-20</text>
<text transform="translate(46.4 958.95) scale(0.985 1)" font-size="17.5" text-anchor="end">-30</text>
<text transform="translate(13.5 905.35) rotate(-90) scale(0.985 1)" font-size="19" text-anchor="middle"><tspan font-style="italic">z</tspan> (cm)</text>
<path d="M109.1 905.35 L113.2 936.55" fill="none" stroke="#000" stroke-width="1.25"/>
<path d="M114.1 905.35L105.7 900.25L105.7 910.45Z" fill="none" stroke="#000" stroke-width="1.2"/>
<path d="M118.2 936.55L109.8 931.45L109.8 941.65Z" fill="none" stroke="#000" stroke-width="1.2"/>
<path d="M150.9 905.35 L149.4 936.55" fill="none" stroke="#000" stroke-width="1.25"/>
<path d="M150.9 910.85L155.7 902.65L146.1 902.65Z" fill="none" stroke="#000" stroke-width="1.2"/>
<path d="M149.4 942.05L154.2 933.85L144.6 933.85Z" fill="none" stroke="#000" stroke-width="1.2"/>
<path d="M198.3 905.35 L204.3 936.55" fill="none" stroke="#000" stroke-width="1.25"/>
<path d="M198.3 899.85L203.1 908.05L193.5 908.05Z" fill="none" stroke="#000" stroke-width="1.2"/>
<path d="M204.3 931.05L209.1 939.25L199.5 939.25Z" fill="none" stroke="#000" stroke-width="1.2"/>
<path d="M425 874.15 L417 905.35 L413.6 936.55" fill="none" stroke="#000" stroke-width="1.25"/>
<path d="M425 868.65L429.35 874.15L425 879.65L420.65 874.15Z" fill="none" stroke="#000" stroke-width="1.2"/>
<path d="M417 899.85L421.35 905.35L417 910.85L412.65 905.35Z" fill="none" stroke="#000" stroke-width="1.2"/>
<path d="M413.6 931.05L417.95 936.55L413.6 942.05L409.25 936.55Z" fill="none" stroke="#000" stroke-width="1.2"/>
<path d="M475 874.15 L449.8 905.35 L449.8 936.55" fill="none" stroke="#2b419f" stroke-width="1.5" stroke-dasharray="1.1 0.95"/>
<rect x="471.55" y="871" width="6.9" height="6.3" fill="none" stroke="#2b419f" stroke-width="1.5"/>
<rect x="446.35" y="902.2" width="6.9" height="6.3" fill="none" stroke="#2b419f" stroke-width="1.5"/>
<rect x="446.35" y="933.4" width="6.9" height="6.3" fill="none" stroke="#2b419f" stroke-width="1.5"/>
<path d="M557.1 874.15 L541.5 905.35 L530.4 936.55" fill="none" stroke="#2b419f" stroke-width="1.5" stroke-dasharray="1.1 0.95"/>
<path d="M554 871.35L560.2 876.95 M554 876.95L560.2 871.35" fill="none" stroke="#2b419f" stroke-width="1.6"/>
<path d="M538.4 902.55L544.6 908.15 M538.4 908.15L544.6 902.55" fill="none" stroke="#2b419f" stroke-width="1.6"/>
<path d="M527.3 933.75L533.5 939.35 M527.3 939.35L533.5 933.75" fill="none" stroke="#2b419f" stroke-width="1.6"/>
<path d="M572.2 874.15 L588.8 905.35 L581.2 936.55" fill="none" stroke="#2b419f" stroke-width="1.5" stroke-dasharray="1.1 0.95"/>
<path d="M567.9 874.15H576.5 M572.2 869.85V878.45 M569.05 871L575.35 877.3 M569.05 877.3L575.35 871" fill="none" stroke="#2b419f" stroke-width="1.5"/>
<path d="M584.5 905.35H593.1 M588.8 901.05V909.65 M585.65 902.2L591.95 908.5 M585.65 908.5L591.95 902.2" fill="none" stroke="#2b419f" stroke-width="1.5"/>
<path d="M576.9 936.55H585.5 M581.2 932.25V940.85 M578.05 933.4L584.35 939.7 M578.05 939.7L584.35 933.4" fill="none" stroke="#2b419f" stroke-width="1.5"/>
<path d="M672.5 874.15 L660.6 905.35 L651.6 936.55" fill="none" stroke="#2b419f" stroke-width="1.5" stroke-dasharray="1.1 0.95"/>
<path d="M672.5 869.3 L673.59 872.65 L677.11 872.65 L674.26 874.72 L675.35 878.07 L672.5 876 L669.65 878.07 L670.74 874.72 L667.89 872.65 L671.41 872.65Z" fill="none" stroke="#2b419f" stroke-width="1.7" stroke-linejoin="round"/>
<path d="M660.6 900.5 L661.69 903.85 L665.21 903.85 L662.36 905.92 L663.45 909.27 L660.6 907.2 L657.75 909.27 L658.84 905.92 L655.99 903.85 L659.51 903.85Z" fill="none" stroke="#2b419f" stroke-width="1.7" stroke-linejoin="round"/>
<path d="M651.6 931.7 L652.69 935.05 L656.21 935.05 L653.36 937.12 L654.45 940.47 L651.6 938.4 L648.75 940.47 L649.84 937.12 L646.99 935.05 L650.51 935.05Z" fill="none" stroke="#2b419f" stroke-width="1.7" stroke-linejoin="round"/>
<text transform="translate(363.4 998.95) scale(1.0 1)" font-size="19" text-anchor="middle"><tspan class="om" font-style="italic" font-family="'Liberation Serif', serif" font-size="20.5">ϕ</tspan><tspan font-size="15.2" dy="9.6">2</tspan><tspan font-size="13.0" dy="0" font-style="italic" class="om">ω</tspan><tspan dy="-9.6"> (-70 cm, -15 cm) - </tspan><tspan class="om" font-style="italic" font-family="'Liberation Serif', serif" font-size="20.5">ϕ</tspan><tspan font-size="15.2" dy="9.6">2</tspan><tspan font-size="13.0" dy="0" font-style="italic" class="om">ω</tspan><tspan dy="-9.6">  (rad)</tspan></text>
<text transform="translate(665.5 875.85) scale(1.0 1)" font-size="19" text-anchor="end">(f)</text>
</g>
</svg>
</body>
</html>
